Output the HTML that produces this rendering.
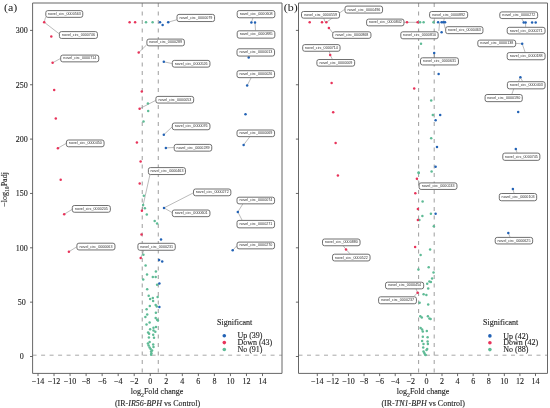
<!DOCTYPE html>
<html><head><meta charset="utf-8"><style>
html,body{margin:0;padding:0;background:#fff;width:550px;height:408px;overflow:hidden}
svg{display:block;will-change:transform}
.tk{font-family:"Liberation Serif",serif;font-size:8px;fill:#1e1e1e;stroke:#1e1e1e;stroke-width:0.12px}
.big{font-family:"Liberation Serif",serif;font-size:10.6px;fill:#1a1a1a}
.lt{font-family:"Liberation Sans",sans-serif;font-size:14.8px;fill:#333;text-anchor:middle}
</style></head><body>
<svg width="550" height="408" viewBox="0 0 550 408">
<line x1="32.6" y1="355.2" x2="282" y2="355.2" stroke="#999" stroke-width="0.85" stroke-dasharray="4,4.5"/>
<line x1="142.23" y1="3" x2="142.23" y2="373.5" stroke="#8c8c8c" stroke-width="0.85" stroke-dasharray="4,4.5"/>
<line x1="158.27" y1="3" x2="158.27" y2="373.5" stroke="#8c8c8c" stroke-width="0.85" stroke-dasharray="4,4.5"/>
<line x1="44.2" y1="22.2" x2="45.6" y2="17.2" stroke="#777" stroke-width="0.5"/>
<line x1="44.2" y1="22.2" x2="59.3" y2="33.9" stroke="#777" stroke-width="0.5"/>
<line x1="52.6" y1="62.8" x2="60.3" y2="58.6" stroke="#777" stroke-width="0.5"/>
<line x1="138.7" y1="52.6" x2="146.5" y2="45" stroke="#777" stroke-width="0.5"/>
<line x1="168.2" y1="22.2" x2="176.6" y2="19.8" stroke="#777" stroke-width="0.5"/>
<line x1="163.8" y1="61.8" x2="171.9" y2="63.5" stroke="#777" stroke-width="0.5"/>
<line x1="251.4" y1="22.4" x2="253" y2="17.6" stroke="#777" stroke-width="0.5"/>
<line x1="255" y1="22.4" x2="255.5" y2="30.4" stroke="#777" stroke-width="0.5"/>
<line x1="248.7" y1="57.5" x2="249" y2="55.9" stroke="#777" stroke-width="0.5"/>
<line x1="247.15" y1="85.5" x2="251.3" y2="77.5" stroke="#777" stroke-width="0.5"/>
<line x1="139.6" y1="108.7" x2="155.5" y2="100.5" stroke="#777" stroke-width="0.5"/>
<line x1="57.9" y1="148.2" x2="66" y2="143.5" stroke="#777" stroke-width="0.5"/>
<line x1="163.8" y1="134.7" x2="172" y2="127" stroke="#777" stroke-width="0.5"/>
<line x1="165.9" y1="147.9" x2="173.8" y2="147.5" stroke="#777" stroke-width="0.5"/>
<line x1="243.6" y1="144.9" x2="250" y2="136.5" stroke="#777" stroke-width="0.5"/>
<line x1="141.9" y1="210.7" x2="150" y2="174.4" stroke="#777" stroke-width="0.5"/>
<line x1="64.2" y1="214.2" x2="72" y2="209.5" stroke="#777" stroke-width="0.5"/>
<line x1="68.9" y1="251.7" x2="76.5" y2="247" stroke="#777" stroke-width="0.5"/>
<line x1="140.7" y1="258" x2="144" y2="249.9" stroke="#777" stroke-width="0.5"/>
<line x1="164" y1="207.9" x2="193.1" y2="193" stroke="#777" stroke-width="0.5"/>
<line x1="164" y1="207.9" x2="172" y2="212.5" stroke="#777" stroke-width="0.5"/>
<line x1="237.8" y1="211.9" x2="243" y2="203.7" stroke="#777" stroke-width="0.5"/>
<line x1="237.8" y1="211.9" x2="242" y2="220" stroke="#777" stroke-width="0.5"/>
<line x1="232.7" y1="250.3" x2="236.6" y2="246" stroke="#777" stroke-width="0.5"/>
<g fill="#5fbb96"><circle cx="146" cy="22.2" r="1.25"/><circle cx="152.6" cy="22.2" r="1.25"/><circle cx="147.9" cy="103.5" r="1.25"/><circle cx="148.2" cy="110.9" r="1.25"/><circle cx="143.5" cy="121.4" r="1.25"/><circle cx="143.8" cy="195.7" r="1.25"/><circle cx="143.1" cy="205.1" r="1.25"/><circle cx="144.9" cy="208.2" r="1.25"/><circle cx="146.8" cy="214.4" r="1.25"/><circle cx="154.7" cy="220.9" r="1.25"/><circle cx="157.1" cy="223.4" r="1.25"/><circle cx="143.4" cy="254.7" r="1.25"/><circle cx="145.6" cy="265.4" r="1.25"/><circle cx="155.9" cy="271.6" r="1.25"/><circle cx="147" cy="274.5" r="1.25"/><circle cx="152.8" cy="277" r="1.25"/><circle cx="155.7" cy="277" r="1.25"/><circle cx="143.2" cy="279.6" r="1.25"/><circle cx="157.1" cy="284.8" r="1.25"/><circle cx="147.2" cy="289.2" r="1.25"/><circle cx="148.7" cy="295.7" r="1.25"/><circle cx="152.8" cy="297.9" r="1.25"/><circle cx="150.1" cy="299.1" r="1.25"/><circle cx="153.1" cy="301.1" r="1.25"/><circle cx="157.6" cy="297" r="1.25"/><circle cx="149.8" cy="306.1" r="1.25"/><circle cx="155.7" cy="304.9" r="1.25"/><circle cx="156.8" cy="306.6" r="1.25"/><circle cx="146.6" cy="309.3" r="1.25"/><circle cx="155.9" cy="312.8" r="1.25"/><circle cx="147.2" cy="314.5" r="1.25"/><circle cx="145.4" cy="317.1" r="1.25"/><circle cx="155.7" cy="318" r="1.25"/><circle cx="157.1" cy="319.7" r="1.25"/><circle cx="157.9" cy="320.5" r="1.25"/><circle cx="149.6" cy="322.6" r="1.25"/><circle cx="146.5" cy="324.4" r="1.25"/><circle cx="156" cy="326.9" r="1.25"/><circle cx="153.5" cy="327.8" r="1.25"/><circle cx="150.1" cy="329.3" r="1.25"/><circle cx="153.5" cy="330.6" r="1.25"/><circle cx="155.3" cy="331.8" r="1.25"/><circle cx="148.1" cy="332.5" r="1.25"/><circle cx="149.1" cy="333.7" r="1.25"/><circle cx="153.2" cy="334.7" r="1.25"/><circle cx="148.9" cy="337.4" r="1.25"/><circle cx="154" cy="337.8" r="1.25"/><circle cx="149.6" cy="342" r="1.25"/><circle cx="147.9" cy="343.5" r="1.25"/><circle cx="153.2" cy="344.5" r="1.25"/><circle cx="148.6" cy="345.5" r="1.25"/><circle cx="153.5" cy="347" r="1.25"/><circle cx="149.6" cy="347.5" r="1.25"/><circle cx="150.6" cy="348.9" r="1.25"/><circle cx="152.1" cy="350.4" r="1.25"/><circle cx="151.1" cy="351.4" r="1.25"/><circle cx="151.4" cy="353.3" r="1.25"/><circle cx="151.1" cy="354.8" r="1.25"/></g>
<g fill="#e8335a"><circle cx="44.2" cy="22.2" r="1.25"/><circle cx="51.3" cy="36.6" r="1.25"/><circle cx="52.6" cy="62.8" r="1.25"/><circle cx="54.2" cy="89.9" r="1.25"/><circle cx="55.8" cy="118.4" r="1.25"/><circle cx="57.9" cy="148.2" r="1.25"/><circle cx="60.7" cy="179.8" r="1.25"/><circle cx="64.2" cy="214.2" r="1.25"/><circle cx="68.9" cy="251.7" r="1.25"/><circle cx="129.6" cy="22.2" r="1.25"/><circle cx="135.1" cy="22.2" r="1.25"/><circle cx="138.7" cy="52.6" r="1.25"/><circle cx="141.8" cy="91.5" r="1.25"/><circle cx="139.6" cy="108.7" r="1.25"/><circle cx="136.9" cy="142.5" r="1.25"/><circle cx="140.6" cy="161.6" r="1.25"/><circle cx="139.7" cy="183.5" r="1.25"/><circle cx="141.9" cy="210.7" r="1.25"/><circle cx="141.5" cy="234.6" r="1.25"/><circle cx="140.7" cy="258" r="1.25"/></g>
<g fill="#2262b5"><circle cx="160" cy="22.2" r="1.25"/><circle cx="162.6" cy="25" r="1.25"/><circle cx="168.2" cy="22.2" r="1.25"/><circle cx="163.8" cy="61.8" r="1.25"/><circle cx="251.4" cy="22.4" r="1.25"/><circle cx="255" cy="22.4" r="1.25"/><circle cx="248.7" cy="57.5" r="1.25"/><circle cx="247.15" cy="85.5" r="1.25"/><circle cx="245.5" cy="114.2" r="1.25"/><circle cx="243.6" cy="144.9" r="1.25"/><circle cx="163.8" cy="134.7" r="1.25"/><circle cx="165.9" cy="147.9" r="1.25"/><circle cx="164" cy="207.9" r="1.25"/><circle cx="237.8" cy="211.9" r="1.25"/><circle cx="232.7" cy="250.3" r="1.25"/><circle cx="161" cy="239.6" r="1.25"/><circle cx="159.1" cy="259.9" r="1.25"/><circle cx="162.2" cy="261.6" r="1.25"/><circle cx="159.4" cy="283.4" r="1.25"/><circle cx="159.4" cy="307" r="1.25"/></g>
<rect x="45.8" y="10.6" width="36.95" height="6.75" rx="2" ry="2" fill="#fff" stroke="#606060" stroke-width="0.9"/>
<text transform="translate(64.35,14.9) scale(0.25,0.28)" class="lt">novel_circ_0000563</text>
<rect x="59.4" y="31.6" width="38.05" height="6.85" rx="2" ry="2" fill="#fff" stroke="#606060" stroke-width="0.9"/>
<text transform="translate(78.5,35.95) scale(0.25,0.28)" class="lt">novel_circ_0000746</text>
<rect x="60.7" y="55.1" width="38.05" height="6.75" rx="2" ry="2" fill="#fff" stroke="#606060" stroke-width="0.9"/>
<text transform="translate(79.8,59.4) scale(0.25,0.28)" class="lt">novel_circ_0000714</text>
<rect x="146.9" y="39.1" width="37.45" height="6.75" rx="2" ry="2" fill="#fff" stroke="#606060" stroke-width="0.9"/>
<text transform="translate(165.7,43.4) scale(0.25,0.28)" class="lt">novel_circ_0000289</text>
<rect x="177" y="14.4" width="37.55" height="7.15" rx="2" ry="2" fill="#fff" stroke="#606060" stroke-width="0.9"/>
<text transform="translate(195.85,18.9) scale(0.25,0.28)" class="lt">novel_circ_0000079</text>
<rect x="172.3" y="60.4" width="37.65" height="6.75" rx="2" ry="2" fill="#fff" stroke="#606060" stroke-width="0.9"/>
<text transform="translate(191.2,64.7) scale(0.25,0.28)" class="lt">novel_circ_0000526</text>
<rect x="237.2" y="10.6" width="37.65" height="7.15" rx="2" ry="2" fill="#fff" stroke="#606060" stroke-width="0.9"/>
<text transform="translate(256.1,15.1) scale(0.25,0.28)" class="lt">novel_circ_0000608</text>
<rect x="237.2" y="30.8" width="37.65" height="7.35" rx="2" ry="2" fill="#fff" stroke="#606060" stroke-width="0.9"/>
<text transform="translate(256.1,35.4) scale(0.25,0.28)" class="lt">novel_circ_0000885</text>
<rect x="237" y="48.8" width="37.55" height="7.25" rx="2" ry="2" fill="#fff" stroke="#606060" stroke-width="0.9"/>
<text transform="translate(255.85,53.35) scale(0.25,0.28)" class="lt">novel_circ_0000013</text>
<rect x="237" y="70.7" width="37.55" height="6.95" rx="2" ry="2" fill="#fff" stroke="#606060" stroke-width="0.9"/>
<text transform="translate(255.85,75.1) scale(0.25,0.28)" class="lt">novel_circ_0000026</text>
<rect x="155.9" y="96.4" width="37.75" height="6.65" rx="2" ry="2" fill="#fff" stroke="#606060" stroke-width="0.9"/>
<text transform="translate(174.85,100.65) scale(0.25,0.28)" class="lt">novel_circ_0000053</text>
<rect x="66.4" y="140" width="37.65" height="6.75" rx="2" ry="2" fill="#fff" stroke="#606060" stroke-width="0.9"/>
<text transform="translate(85.3,144.3) scale(0.25,0.28)" class="lt">novel_circ_0000450</text>
<rect x="172.3" y="123" width="37.65" height="6.75" rx="2" ry="2" fill="#fff" stroke="#606060" stroke-width="0.9"/>
<text transform="translate(191.2,127.3) scale(0.25,0.28)" class="lt">novel_circ_0000076</text>
<rect x="174.2" y="144.4" width="37.55" height="6.75" rx="2" ry="2" fill="#fff" stroke="#606060" stroke-width="0.9"/>
<text transform="translate(193.05,148.7) scale(0.25,0.28)" class="lt">novel_circ_0000289</text>
<rect x="237" y="130" width="37.55" height="6.65" rx="2" ry="2" fill="#fff" stroke="#606060" stroke-width="0.9"/>
<text transform="translate(255.85,134.25) scale(0.25,0.28)" class="lt">novel_circ_0000069</text>
<rect x="148.4" y="167.6" width="37.05" height="6.95" rx="2" ry="2" fill="#fff" stroke="#606060" stroke-width="0.9"/>
<text transform="translate(167,172) scale(0.25,0.28)" class="lt">novel_circ_0000463</text>
<rect x="72.3" y="205.5" width="38.05" height="6.75" rx="2" ry="2" fill="#fff" stroke="#606060" stroke-width="0.9"/>
<text transform="translate(91.4,209.8) scale(0.25,0.28)" class="lt">novel_circ_0000205</text>
<rect x="76.9" y="243.2" width="38.05" height="6.75" rx="2" ry="2" fill="#fff" stroke="#606060" stroke-width="0.9"/>
<text transform="translate(96,247.5) scale(0.25,0.28)" class="lt">novel_circ_0000063</text>
<rect x="137.9" y="243.3" width="37.35" height="6.95" rx="2" ry="2" fill="#fff" stroke="#606060" stroke-width="0.9"/>
<text transform="translate(156.65,247.7) scale(0.25,0.28)" class="lt">novel_circ_0000231</text>
<rect x="193.5" y="189" width="37.35" height="6.75" rx="2" ry="2" fill="#fff" stroke="#606060" stroke-width="0.9"/>
<text transform="translate(212.25,193.3) scale(0.25,0.28)" class="lt">novel_circ_0000272</text>
<rect x="172.3" y="210" width="37.65" height="6.65" rx="2" ry="2" fill="#fff" stroke="#606060" stroke-width="0.9"/>
<text transform="translate(191.2,214.25) scale(0.25,0.28)" class="lt">novel_circ_0000601</text>
<rect x="237" y="197.2" width="37.55" height="6.65" rx="2" ry="2" fill="#fff" stroke="#606060" stroke-width="0.9"/>
<text transform="translate(255.85,201.45) scale(0.25,0.28)" class="lt">novel_circ_0000074</text>
<rect x="237" y="220.4" width="37.55" height="7.45" rx="2" ry="2" fill="#fff" stroke="#606060" stroke-width="0.9"/>
<text transform="translate(255.85,225.05) scale(0.25,0.28)" class="lt">novel_circ_0000271</text>
<rect x="237" y="242.1" width="37.55" height="6.75" rx="2" ry="2" fill="#fff" stroke="#606060" stroke-width="0.9"/>
<text transform="translate(255.85,246.4) scale(0.25,0.28)" class="lt">novel_circ_0000270</text>
<path d="M32.6 3V373.4H282V3Z" fill="none" stroke="#676767" stroke-width="1"/>
<line x1="30" y1="356.5" x2="32.6" y2="356.5" stroke="#444" stroke-width="0.8"/>
<line x1="30" y1="302.15" x2="32.6" y2="302.15" stroke="#444" stroke-width="0.8"/>
<line x1="30" y1="247.8" x2="32.6" y2="247.8" stroke="#444" stroke-width="0.8"/>
<line x1="30" y1="193.45" x2="32.6" y2="193.45" stroke="#444" stroke-width="0.8"/>
<line x1="30" y1="139.1" x2="32.6" y2="139.1" stroke="#444" stroke-width="0.8"/>
<line x1="30" y1="84.75" x2="32.6" y2="84.75" stroke="#444" stroke-width="0.8"/>
<line x1="30" y1="30.4" x2="32.6" y2="30.4" stroke="#444" stroke-width="0.8"/>
<line x1="38" y1="373.5" x2="38" y2="376.1" stroke="#444" stroke-width="0.8"/>
<text x="38" y="383.7" class="tk" text-anchor="middle">−14</text>
<line x1="54.03" y1="373.5" x2="54.03" y2="376.1" stroke="#444" stroke-width="0.8"/>
<text x="54.03" y="383.7" class="tk" text-anchor="middle">−12</text>
<line x1="70.07" y1="373.5" x2="70.07" y2="376.1" stroke="#444" stroke-width="0.8"/>
<text x="70.07" y="383.7" class="tk" text-anchor="middle">−10</text>
<line x1="86.11" y1="373.5" x2="86.11" y2="376.1" stroke="#444" stroke-width="0.8"/>
<text x="86.11" y="383.7" class="tk" text-anchor="middle">−8</text>
<line x1="102.14" y1="373.5" x2="102.14" y2="376.1" stroke="#444" stroke-width="0.8"/>
<text x="102.14" y="383.7" class="tk" text-anchor="middle">−6</text>
<line x1="118.18" y1="373.5" x2="118.18" y2="376.1" stroke="#444" stroke-width="0.8"/>
<text x="118.18" y="383.7" class="tk" text-anchor="middle">−4</text>
<line x1="134.21" y1="373.5" x2="134.21" y2="376.1" stroke="#444" stroke-width="0.8"/>
<text x="134.21" y="383.7" class="tk" text-anchor="middle">−2</text>
<line x1="150.25" y1="373.5" x2="150.25" y2="376.1" stroke="#444" stroke-width="0.8"/>
<text x="150.25" y="383.7" class="tk" text-anchor="middle">0</text>
<line x1="166.29" y1="373.5" x2="166.29" y2="376.1" stroke="#444" stroke-width="0.8"/>
<text x="166.29" y="383.7" class="tk" text-anchor="middle">2</text>
<line x1="182.32" y1="373.5" x2="182.32" y2="376.1" stroke="#444" stroke-width="0.8"/>
<text x="182.32" y="383.7" class="tk" text-anchor="middle">4</text>
<line x1="198.36" y1="373.5" x2="198.36" y2="376.1" stroke="#444" stroke-width="0.8"/>
<text x="198.36" y="383.7" class="tk" text-anchor="middle">6</text>
<line x1="214.39" y1="373.5" x2="214.39" y2="376.1" stroke="#444" stroke-width="0.8"/>
<text x="214.39" y="383.7" class="tk" text-anchor="middle">8</text>
<line x1="230.43" y1="373.5" x2="230.43" y2="376.1" stroke="#444" stroke-width="0.8"/>
<text x="230.43" y="383.7" class="tk" text-anchor="middle">10</text>
<line x1="246.47" y1="373.5" x2="246.47" y2="376.1" stroke="#444" stroke-width="0.8"/>
<text x="246.47" y="383.7" class="tk" text-anchor="middle">12</text>
<line x1="262.5" y1="373.5" x2="262.5" y2="376.1" stroke="#444" stroke-width="0.8"/>
<text x="262.5" y="383.7" class="tk" text-anchor="middle">14</text>
<text x="217.1" y="325.3" class="tk">Significant</text>
<line x1="298.5" y1="355.2" x2="547.5" y2="355.2" stroke="#999" stroke-width="0.85" stroke-dasharray="4,4.5"/>
<line x1="418.61" y1="3" x2="418.61" y2="373.5" stroke="#8c8c8c" stroke-width="0.85" stroke-dasharray="4,4.5"/>
<line x1="434.19" y1="3" x2="434.19" y2="373.5" stroke="#8c8c8c" stroke-width="0.85" stroke-dasharray="4,4.5"/>
<line x1="326.3" y1="22.3" x2="344.6" y2="9.4" stroke="#777" stroke-width="0.5"/>
<line x1="325.1" y1="22" x2="323.7" y2="18" stroke="#777" stroke-width="0.5"/>
<line x1="328.9" y1="27.9" x2="333.1" y2="33.4" stroke="#777" stroke-width="0.5"/>
<line x1="403.9" y1="22.3" x2="417.6" y2="22.3" stroke="#777" stroke-width="0.5"/>
<line x1="439.6" y1="22.9" x2="438.8" y2="31.1" stroke="#777" stroke-width="0.5"/>
<line x1="443.9" y1="22.9" x2="445.1" y2="28.4" stroke="#777" stroke-width="0.5"/>
<line x1="443.5" y1="22.4" x2="444.3" y2="18.2" stroke="#777" stroke-width="0.5"/>
<line x1="434" y1="22.4" x2="434.5" y2="18.2" stroke="#777" stroke-width="0.5"/>
<line x1="330.2" y1="54.9" x2="329.2" y2="51.1" stroke="#777" stroke-width="0.5"/>
<line x1="330.2" y1="54.9" x2="332.3" y2="59.1" stroke="#777" stroke-width="0.5"/>
<line x1="434.2" y1="53.1" x2="434.5" y2="57.4" stroke="#777" stroke-width="0.5"/>
<line x1="523.7" y1="22" x2="521.5" y2="18.4" stroke="#777" stroke-width="0.5"/>
<line x1="525.6" y1="22.4" x2="525.6" y2="26.9" stroke="#777" stroke-width="0.5"/>
<line x1="515.6" y1="43.4" x2="522.2" y2="43.8" stroke="#777" stroke-width="0.5"/>
<line x1="522.2" y1="43.8" x2="525.1" y2="52.2" stroke="#777" stroke-width="0.5"/>
<line x1="520.4" y1="77.2" x2="518.5" y2="81.3" stroke="#777" stroke-width="0.5"/>
<line x1="520.4" y1="77.2" x2="522.5" y2="81.3" stroke="#777" stroke-width="0.5"/>
<line x1="513.8" y1="88.7" x2="511.9" y2="94.1" stroke="#777" stroke-width="0.5"/>
<line x1="515.8" y1="148.9" x2="517" y2="152.7" stroke="#777" stroke-width="0.5"/>
<line x1="416.9" y1="178.8" x2="419.5" y2="182.5" stroke="#777" stroke-width="0.5"/>
<line x1="512.9" y1="189" x2="514" y2="193.1" stroke="#777" stroke-width="0.5"/>
<line x1="508.3" y1="233" x2="510" y2="237" stroke="#777" stroke-width="0.5"/>
<line x1="346" y1="249.4" x2="343" y2="245.6" stroke="#777" stroke-width="0.5"/>
<line x1="346" y1="249.4" x2="350" y2="253.8" stroke="#777" stroke-width="0.5"/>
<line x1="417.6" y1="292.7" x2="416" y2="288.7" stroke="#777" stroke-width="0.5"/>
<line x1="417.6" y1="292.7" x2="414" y2="296.4" stroke="#777" stroke-width="0.5"/>
<g fill="#5fbb96"><circle cx="420.1" cy="22.3" r="1.25"/><circle cx="423.6" cy="22.3" r="1.25"/><circle cx="433.5" cy="22.3" r="1.25"/><circle cx="421" cy="43.7" r="1.25"/><circle cx="431.2" cy="100.5" r="1.25"/><circle cx="432.8" cy="115.1" r="1.25"/><circle cx="431.2" cy="138.2" r="1.25"/><circle cx="431.6" cy="171.5" r="1.25"/><circle cx="418.6" cy="172.6" r="1.25"/><circle cx="418.7" cy="172.9" r="1.25"/><circle cx="422.6" cy="201.6" r="1.25"/><circle cx="430.9" cy="213.8" r="1.25"/><circle cx="422.4" cy="216" r="1.25"/><circle cx="419.4" cy="220" r="1.25"/><circle cx="433.8" cy="226.3" r="1.25"/><circle cx="430.1" cy="249.6" r="1.25"/><circle cx="420.6" cy="254.9" r="1.25"/><circle cx="428.7" cy="267.2" r="1.25"/><circle cx="418.4" cy="269.6" r="1.25"/><circle cx="433.5" cy="272.4" r="1.25"/><circle cx="432.1" cy="278.4" r="1.25"/><circle cx="429.4" cy="281.6" r="1.25"/><circle cx="430.9" cy="281.9" r="1.25"/><circle cx="427.2" cy="283.8" r="1.25"/><circle cx="428.2" cy="288.5" r="1.25"/><circle cx="423.6" cy="294.2" r="1.25"/><circle cx="426.4" cy="294.9" r="1.25"/><circle cx="419.6" cy="302.7" r="1.25"/><circle cx="428.2" cy="304.5" r="1.25"/><circle cx="420.3" cy="316.2" r="1.25"/><circle cx="421.8" cy="317.4" r="1.25"/><circle cx="427.9" cy="316.2" r="1.25"/><circle cx="429.4" cy="318.4" r="1.25"/><circle cx="430.6" cy="319.1" r="1.25"/><circle cx="420.6" cy="327.9" r="1.25"/><circle cx="422.1" cy="329.4" r="1.25"/><circle cx="422.8" cy="331.6" r="1.25"/><circle cx="426.8" cy="330.9" r="1.25"/><circle cx="422.8" cy="336.8" r="1.25"/><circle cx="427.6" cy="337.2" r="1.25"/><circle cx="422.1" cy="340.9" r="1.25"/><circle cx="427.6" cy="341.6" r="1.25"/><circle cx="423.5" cy="344.1" r="1.25"/><circle cx="427.9" cy="344.1" r="1.25"/><circle cx="423.2" cy="347.5" r="1.25"/><circle cx="427.2" cy="349" r="1.25"/><circle cx="426.5" cy="350" r="1.25"/><circle cx="423.5" cy="351.5" r="1.25"/><circle cx="424.3" cy="352.9" r="1.25"/><circle cx="425" cy="354.4" r="1.25"/><circle cx="425.7" cy="355.1" r="1.25"/></g>
<g fill="#e8335a"><circle cx="309.7" cy="22.3" r="1.25"/><circle cx="322" cy="22.3" r="1.25"/><circle cx="326.3" cy="22.3" r="1.25"/><circle cx="328.9" cy="27.9" r="1.25"/><circle cx="330.2" cy="54.9" r="1.25"/><circle cx="331.6" cy="83.1" r="1.25"/><circle cx="333.2" cy="112.3" r="1.25"/><circle cx="335.6" cy="143.1" r="1.25"/><circle cx="337.9" cy="175.6" r="1.25"/><circle cx="346" cy="249.4" r="1.25"/><circle cx="407" cy="22.3" r="1.25"/><circle cx="417.6" cy="22.3" r="1.25"/><circle cx="414.2" cy="88.4" r="1.25"/><circle cx="416.9" cy="178.8" r="1.25"/><circle cx="415.3" cy="193.2" r="1.25"/><circle cx="417.9" cy="209" r="1.25"/><circle cx="417.9" cy="220" r="1.25"/><circle cx="415.1" cy="247.1" r="1.25"/><circle cx="417.6" cy="292.7" r="1.25"/></g>
<g fill="#2262b5"><circle cx="438.1" cy="22.3" r="1.25"/><circle cx="441.6" cy="22.3" r="1.25"/><circle cx="443.3" cy="22.3" r="1.25"/><circle cx="445" cy="22.3" r="1.25"/><circle cx="441.6" cy="32.2" r="1.25"/><circle cx="434.2" cy="53.1" r="1.25"/><circle cx="438.6" cy="74" r="1.25"/><circle cx="523.7" cy="22.4" r="1.25"/><circle cx="525.6" cy="22.4" r="1.25"/><circle cx="532.1" cy="22.4" r="1.25"/><circle cx="535.7" cy="22.4" r="1.25"/><circle cx="522.2" cy="43.8" r="1.25"/><circle cx="520.4" cy="77.2" r="1.25"/><circle cx="518.2" cy="111.9" r="1.25"/><circle cx="440.2" cy="115.1" r="1.25"/><circle cx="435.6" cy="120.3" r="1.25"/><circle cx="437" cy="147" r="1.25"/><circle cx="515.8" cy="148.9" r="1.25"/><circle cx="435.6" cy="166.8" r="1.25"/><circle cx="435.6" cy="213.8" r="1.25"/><circle cx="512.9" cy="189" r="1.25"/><circle cx="508.3" cy="233" r="1.25"/></g>
<rect x="345" y="6.1" width="37.55" height="6.95" rx="2" ry="2" fill="#fff" stroke="#606060" stroke-width="0.9"/>
<text transform="translate(363.85,10.5) scale(0.25,0.28)" class="lt">novel_circ_0000496</text>
<rect x="301.5" y="11.5" width="38.05" height="6.65" rx="2" ry="2" fill="#fff" stroke="#606060" stroke-width="0.9"/>
<text transform="translate(320.6,15.75) scale(0.25,0.28)" class="lt">novel_circ_0000559</text>
<rect x="332.7" y="31.8" width="38.25" height="6.55" rx="2" ry="2" fill="#fff" stroke="#606060" stroke-width="0.9"/>
<text transform="translate(351.9,36) scale(0.25,0.28)" class="lt">novel_circ_0000868</text>
<rect x="366.6" y="19.1" width="37.35" height="6.75" rx="2" ry="2" fill="#fff" stroke="#606060" stroke-width="0.9"/>
<text transform="translate(385.35,23.4) scale(0.25,0.28)" class="lt">novel_circ_0000842</text>
<rect x="400.8" y="31.8" width="37.35" height="6.95" rx="2" ry="2" fill="#fff" stroke="#606060" stroke-width="0.9"/>
<text transform="translate(419.55,36.2) scale(0.25,0.28)" class="lt">novel_circ_0000810</text>
<rect x="302.7" y="44.6" width="37.35" height="6.65" rx="2" ry="2" fill="#fff" stroke="#606060" stroke-width="0.9"/>
<text transform="translate(321.45,48.85) scale(0.25,0.28)" class="lt">novel_circ_0000714</text>
<rect x="316.9" y="59.5" width="37.75" height="6.65" rx="2" ry="2" fill="#fff" stroke="#606060" stroke-width="0.9"/>
<text transform="translate(335.85,63.75) scale(0.25,0.28)" class="lt">novel_circ_0000009</text>
<rect x="429.6" y="11.5" width="38.05" height="6.65" rx="2" ry="2" fill="#fff" stroke="#606060" stroke-width="0.9"/>
<text transform="translate(448.7,15.75) scale(0.25,0.28)" class="lt">novel_circ_0000892</text>
<rect x="445.7" y="26.7" width="37.25" height="6.95" rx="2" ry="2" fill="#fff" stroke="#606060" stroke-width="0.9"/>
<text transform="translate(464.4,31.1) scale(0.25,0.28)" class="lt">novel_circ_0000463</text>
<rect x="420.5" y="57.8" width="37.95" height="7.15" rx="2" ry="2" fill="#fff" stroke="#606060" stroke-width="0.9"/>
<text transform="translate(439.55,62.3) scale(0.25,0.28)" class="lt">novel_circ_0000631</text>
<rect x="499.8" y="11.9" width="37.85" height="6.65" rx="2" ry="2" fill="#fff" stroke="#606060" stroke-width="0.9"/>
<text transform="translate(518.8,16.15) scale(0.25,0.28)" class="lt">novel_circ_0000272</text>
<rect x="507.2" y="27.3" width="37.85" height="6.65" rx="2" ry="2" fill="#fff" stroke="#606060" stroke-width="0.9"/>
<text transform="translate(526.2,31.55) scale(0.25,0.28)" class="lt">novel_circ_0000271</text>
<rect x="477.8" y="40.1" width="37.85" height="6.65" rx="2" ry="2" fill="#fff" stroke="#606060" stroke-width="0.9"/>
<text transform="translate(496.8,44.35) scale(0.25,0.28)" class="lt">novel_circ_0000138</text>
<rect x="507.2" y="52.6" width="37.85" height="7.15" rx="2" ry="2" fill="#fff" stroke="#606060" stroke-width="0.9"/>
<text transform="translate(526.2,57.1) scale(0.25,0.28)" class="lt">novel_circ_0000188</text>
<rect x="507.4" y="81.7" width="37.65" height="7.15" rx="2" ry="2" fill="#fff" stroke="#606060" stroke-width="0.9"/>
<text transform="translate(526.3,86.2) scale(0.25,0.28)" class="lt">novel_circ_0000403</text>
<rect x="485.1" y="94.5" width="37.15" height="7.15" rx="2" ry="2" fill="#fff" stroke="#606060" stroke-width="0.9"/>
<text transform="translate(503.75,99) scale(0.25,0.28)" class="lt">novel_circ_0000190</text>
<rect x="502.8" y="153.1" width="37.05" height="7.25" rx="2" ry="2" fill="#fff" stroke="#606060" stroke-width="0.9"/>
<text transform="translate(521.4,157.65) scale(0.25,0.28)" class="lt">novel_circ_0000745</text>
<rect x="419.1" y="182.9" width="37.85" height="6.55" rx="2" ry="2" fill="#fff" stroke="#606060" stroke-width="0.9"/>
<text transform="translate(438.1,187.1) scale(0.25,0.28)" class="lt">novel_circ_0000243</text>
<rect x="499.3" y="193.5" width="37.35" height="7.25" rx="2" ry="2" fill="#fff" stroke="#606060" stroke-width="0.9"/>
<text transform="translate(518.05,198.05) scale(0.25,0.28)" class="lt">novel_circ_0000103</text>
<rect x="495.2" y="237.4" width="37.45" height="6.55" rx="2" ry="2" fill="#fff" stroke="#606060" stroke-width="0.9"/>
<text transform="translate(514,241.6) scale(0.25,0.28)" class="lt">novel_circ_0000625</text>
<rect x="322.5" y="239" width="37.55" height="6.75" rx="2" ry="2" fill="#fff" stroke="#606060" stroke-width="0.9"/>
<text transform="translate(341.35,243.3) scale(0.25,0.28)" class="lt">novel_circ_0000880</text>
<rect x="332.5" y="254.2" width="37.55" height="6.75" rx="2" ry="2" fill="#fff" stroke="#606060" stroke-width="0.9"/>
<text transform="translate(351.35,258.5) scale(0.25,0.28)" class="lt">novel_circ_0000522</text>
<rect x="385.5" y="282.2" width="38.15" height="6.65" rx="2" ry="2" fill="#fff" stroke="#606060" stroke-width="0.9"/>
<text transform="translate(404.65,286.45) scale(0.25,0.28)" class="lt">novel_circ_0000454</text>
<rect x="378.6" y="296.8" width="37.85" height="6.95" rx="2" ry="2" fill="#fff" stroke="#606060" stroke-width="0.9"/>
<text transform="translate(397.6,301.2) scale(0.25,0.28)" class="lt">novel_circ_0000237</text>
<path d="M298.5 3V373.4H547.5V3Z" fill="none" stroke="#676767" stroke-width="1"/>
<line x1="295.9" y1="356.5" x2="298.5" y2="356.5" stroke="#444" stroke-width="0.8"/>
<line x1="295.9" y1="302.15" x2="298.5" y2="302.15" stroke="#444" stroke-width="0.8"/>
<line x1="295.9" y1="247.8" x2="298.5" y2="247.8" stroke="#444" stroke-width="0.8"/>
<line x1="295.9" y1="193.45" x2="298.5" y2="193.45" stroke="#444" stroke-width="0.8"/>
<line x1="295.9" y1="139.1" x2="298.5" y2="139.1" stroke="#444" stroke-width="0.8"/>
<line x1="295.9" y1="84.75" x2="298.5" y2="84.75" stroke="#444" stroke-width="0.8"/>
<line x1="295.9" y1="30.4" x2="298.5" y2="30.4" stroke="#444" stroke-width="0.8"/>
<line x1="317.3" y1="373.5" x2="317.3" y2="376.1" stroke="#444" stroke-width="0.8"/>
<text x="317.3" y="383.7" class="tk" text-anchor="middle">−14</text>
<line x1="332.88" y1="373.5" x2="332.88" y2="376.1" stroke="#444" stroke-width="0.8"/>
<text x="332.88" y="383.7" class="tk" text-anchor="middle">−12</text>
<line x1="348.47" y1="373.5" x2="348.47" y2="376.1" stroke="#444" stroke-width="0.8"/>
<text x="348.47" y="383.7" class="tk" text-anchor="middle">−10</text>
<line x1="364.06" y1="373.5" x2="364.06" y2="376.1" stroke="#444" stroke-width="0.8"/>
<text x="364.06" y="383.7" class="tk" text-anchor="middle">−8</text>
<line x1="379.64" y1="373.5" x2="379.64" y2="376.1" stroke="#444" stroke-width="0.8"/>
<text x="379.64" y="383.7" class="tk" text-anchor="middle">−6</text>
<line x1="395.23" y1="373.5" x2="395.23" y2="376.1" stroke="#444" stroke-width="0.8"/>
<text x="395.23" y="383.7" class="tk" text-anchor="middle">−4</text>
<line x1="410.81" y1="373.5" x2="410.81" y2="376.1" stroke="#444" stroke-width="0.8"/>
<text x="410.81" y="383.7" class="tk" text-anchor="middle">−2</text>
<line x1="426.4" y1="373.5" x2="426.4" y2="376.1" stroke="#444" stroke-width="0.8"/>
<text x="426.4" y="383.7" class="tk" text-anchor="middle">0</text>
<line x1="441.99" y1="373.5" x2="441.99" y2="376.1" stroke="#444" stroke-width="0.8"/>
<text x="441.99" y="383.7" class="tk" text-anchor="middle">2</text>
<line x1="457.57" y1="373.5" x2="457.57" y2="376.1" stroke="#444" stroke-width="0.8"/>
<text x="457.57" y="383.7" class="tk" text-anchor="middle">4</text>
<line x1="473.16" y1="373.5" x2="473.16" y2="376.1" stroke="#444" stroke-width="0.8"/>
<text x="473.16" y="383.7" class="tk" text-anchor="middle">6</text>
<line x1="488.74" y1="373.5" x2="488.74" y2="376.1" stroke="#444" stroke-width="0.8"/>
<text x="488.74" y="383.7" class="tk" text-anchor="middle">8</text>
<line x1="504.33" y1="373.5" x2="504.33" y2="376.1" stroke="#444" stroke-width="0.8"/>
<text x="504.33" y="383.7" class="tk" text-anchor="middle">10</text>
<line x1="519.92" y1="373.5" x2="519.92" y2="376.1" stroke="#444" stroke-width="0.8"/>
<text x="519.92" y="383.7" class="tk" text-anchor="middle">12</text>
<line x1="535.5" y1="373.5" x2="535.5" y2="376.1" stroke="#444" stroke-width="0.8"/>
<text x="535.5" y="383.7" class="tk" text-anchor="middle">14</text>
<text x="483.1" y="325.3" class="tk">Significant</text>
<circle cx="224.3" cy="335.7" r="1.8" fill="#2262b5"/><circle cx="224.3" cy="342.6" r="1.8" fill="#e8335a"/><circle cx="224.3" cy="349.5" r="1.8" fill="#5fbb96"/>
<text x="237.4" y="338.3" class="tk">Up (39)</text><text x="237.4" y="345.2" class="tk">Down (43)</text><text x="237.4" y="352.1" class="tk">No (91)</text>
<circle cx="489.9" cy="335.9" r="1.8" fill="#2262b5"/><circle cx="489.9" cy="342.7" r="1.8" fill="#e8335a"/><circle cx="489.9" cy="349.6" r="1.8" fill="#5fbb96"/>
<text x="503.2" y="338.5" class="tk">Up (42)</text><text x="503.2" y="345.3" class="tk">Down (42)</text><text x="503.2" y="352.2" class="tk">No (88)</text>
<text x="10.6" y="0" class="tk" transform="translate(7.2,189.4) rotate(-90)" text-anchor="middle"><tspan x="0">−log</tspan><tspan font-size="5.6" dy="2">10</tspan><tspan dy="-2">Padj</tspan></text>
<text x="21.7" y="33.2" class="tk" text-anchor="middle">300</text>
<text x="21.7" y="87.5" class="tk" text-anchor="middle">250</text>
<text x="21.7" y="141.9" class="tk" text-anchor="middle">200</text>
<text x="21.7" y="196.2" class="tk" text-anchor="middle">150</text>
<text x="21.7" y="250.6" class="tk" text-anchor="middle">100</text>
<text x="21.7" y="305" class="tk" text-anchor="middle">50</text>
<text x="21.7" y="359.3" class="tk" text-anchor="middle">0</text>
<text x="157" y="394.3" class="tk" text-anchor="middle">log<tspan font-size="5.8" dy="2.5">2</tspan><tspan dy="-2.5">Fold change</tspan></text>
<text x="157.6" y="405.6" class="tk" text-anchor="middle">(IR-<tspan font-style="italic">IR56-BPH</tspan> vs Control)</text>
<text x="423" y="394.3" class="tk" text-anchor="middle">log<tspan font-size="5.8" dy="2.5">2</tspan><tspan dy="-2.5">Fold change</tspan></text>
<text x="423.2" y="405.6" class="tk" text-anchor="middle">(IR-<tspan font-style="italic">TN1-BPH</tspan> vs Control)</text>
<text x="0" y="0" transform="translate(3.9,11.3) scale(1.13,1)" class="big">(a)</text>
<text x="0" y="0" transform="translate(283.8,11.3) scale(1.13,1)" class="big">(b)</text>
</svg>
</body></html>
